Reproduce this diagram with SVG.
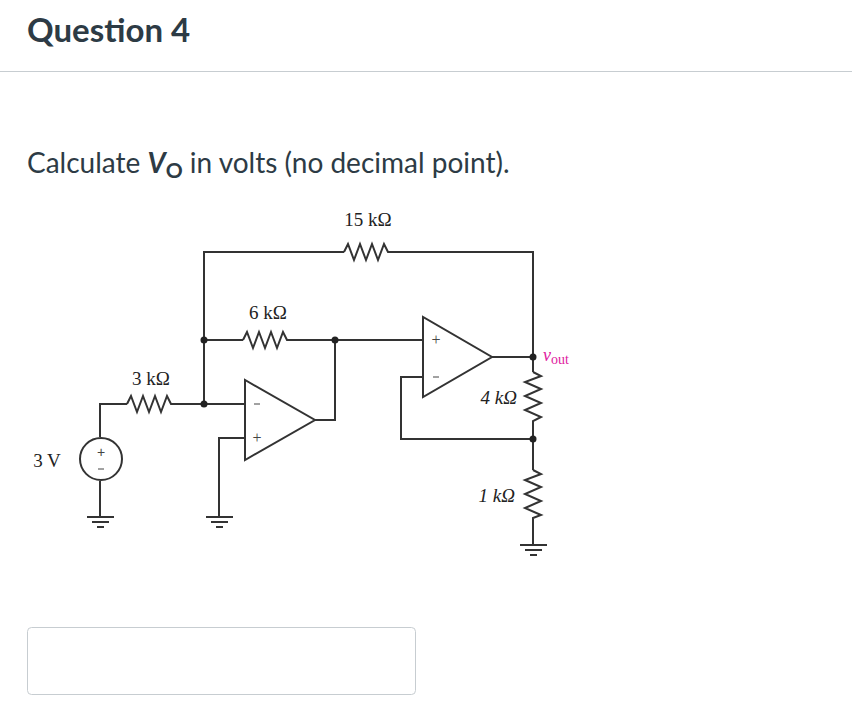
<svg xmlns="http://www.w3.org/2000/svg" width="852" height="722" viewBox="0 0 852 722">
<style>
.w{fill:none;stroke:#333;stroke-width:2;stroke-linejoin:miter}
.d{fill:#222}
.s{font-family:"Liberation Serif",serif;font-size:19px;fill:#222}
.i{font-family:"Liberation Serif",serif;font-size:19px;font-style:italic;fill:#222}
</style>
<rect width="852" height="722" fill="#fff"/>
<text x="27" y="42" font-family="Lato,sans-serif" font-size="33" font-weight="bold" fill="#2d3b45">Question 4</text>
<line x1="0" y1="71.5" x2="852" y2="71.5" stroke="#c7cdd1" stroke-width="1"/>
<text x="27" y="173" font-family="Lato,sans-serif" font-size="28" fill="#2d3b45">Calculate <tspan font-weight="bold" font-style="italic">V</tspan><tspan font-weight="bold" font-size="21" dy="5">O</tspan><tspan dy="-5"> in volts (no decimal point).</tspan></text>
<rect x="27.5" y="627.5" width="388" height="67" rx="4" fill="#fff" stroke="#c7cdd1"/>
<g id="connectors">
<path class="w" d="M204,404 V252 H344 M392,252 H533 V357"/>
<path class="w" d="M204,340 H243 M293,340 H423"/>
<path class="w" d="M335,340 V420 H315"/>
<path class="w" d="M100,437 V404 H127 M177,404 H245"/>
<path class="w" d="M100,481 V517"/>
<path class="w" d="M245,438 H219 V517"/>
<path class="w" d="M423,377 H401 V439 H533"/>
<path class="w" d="M492,357 H533 V372 M533,425 V470 M533,520 V545"/>
</g>
<g id="r15"><polyline class="w" points="344,252 348,244 354,260 360,244 366,260 372,244 378,260 384,244 388,252 392,252"/><text class="s" x="368" y="226" text-anchor="middle">15 kΩ</text></g>
<g id="r6"><polyline class="w" points="243,340 247,332 253,348 259,332 265,348 271,332 277,348 283,332 287,340 293,340"/><text class="s" x="268" y="319" text-anchor="middle">6 kΩ</text></g>
<g id="r3"><polyline class="w" points="127,404 131,396 137,412 143,396 149,412 155,396 161,412 167,396 171,404 177,404"/><text class="s" x="151" y="385" text-anchor="middle">3 kΩ</text></g>
<g id="r4"><polyline class="w" points="533,372 541,376 525,382 541,389 525,396 541,403 525,410 541,417 533,421 533,425"/><text class="i" x="517" y="404" text-anchor="end">4 kΩ</text></g>
<g id="r1"><polyline class="w" points="533,470 541,474 525,480 541,487 525,494 541,501 525,508 541,515 533,518 533,520"/><text class="i" x="515" y="502" text-anchor="end">1 kΩ</text></g>
<g id="src"><circle class="w" cx="101" cy="459" r="21"/><text x="101" y="457" font-family="Liberation Sans,sans-serif" font-size="14" fill="#444" text-anchor="middle">+</text><line x1="98" y1="469" x2="104" y2="469" stroke="#444"/><text class="s" x="47" y="467" text-anchor="middle">3 V</text></g>
<g id="op1"><polygon class="w" points="245,380 245,460 315,420"/><line x1="254" y1="404" x2="260" y2="404" stroke="#444"/><text x="257" y="443" font-family="Liberation Serif,serif" font-size="16" fill="#444" text-anchor="middle">+</text></g>
<g id="op2"><polygon class="w" points="423,317 423,397 492,357"/><text x="436" y="345" font-family="Liberation Serif,serif" font-size="16" fill="#444" text-anchor="middle">+</text><line x1="433" y1="377" x2="439" y2="377" stroke="#444"/></g>
<g id="gnd"><path class="w" d="M87,517 H114 M92,522 H109 M97,527 H104 M206,517 H233 M211,522 H228 M216,527 H223 M520,545 H547 M525,550 H542 M530,555 H537"/></g>
<g id="nodes"><circle class="d" cx="204" cy="340" r="3.5"/><circle class="d" cx="335" cy="340" r="3.5"/><circle class="d" cx="204" cy="404" r="3.5"/><circle class="d" cx="533" cy="357" r="3.5"/><circle class="d" cx="533" cy="439" r="3.5"/></g>
<g id="vout"><text x="543" y="361" font-family="Liberation Serif,serif" font-size="18" font-style="italic" fill="#e020a0">v<tspan font-style="normal" font-size="14" dy="3">out</tspan></text></g>
</svg>
